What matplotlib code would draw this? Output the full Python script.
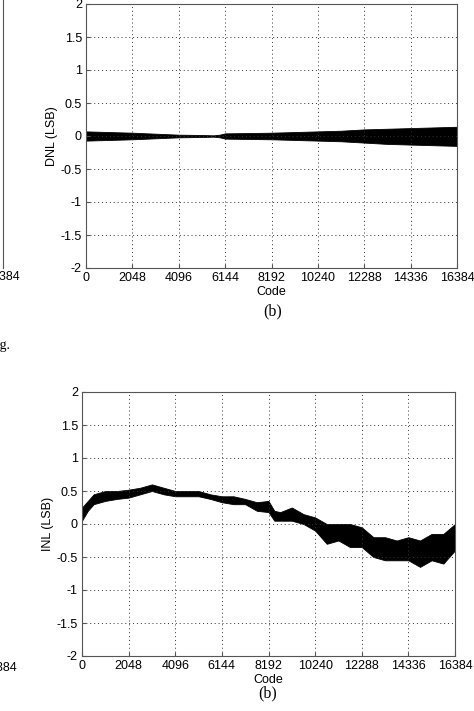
import matplotlib
matplotlib.use("Agg")
import matplotlib.pyplot as plt
import numpy as np

# DNL envelope (LSB)
dnl_codes = [0, 1024, 2048, 3072, 4096, 5120, 5632, 5900, 6144, 7168, 8192, 9216, 10240, 11264, 12288, 13312, 14336, 15360, 16384]
dnl_upper = [0.07, 0.06, 0.05, 0.035, 0.02, 0.015, 0.01, 0.02, 0.04, 0.045, 0.05, 0.06, 0.07, 0.08, 0.1, 0.11, 0.12, 0.13, 0.14]
dnl_lower = [-0.07, -0.06, -0.05, -0.035, -0.02, -0.015, -0.01, -0.02, -0.04, -0.045, -0.05, -0.06, -0.07, -0.08, -0.1, -0.12, -0.13, -0.14, -0.15]

# INL envelope (LSB)
inl_codes = [0, 256, 512, 1024, 1536, 2048, 2560, 3072, 3584, 4096, 4608, 5120, 5632, 6144, 6656, 7168, 7680, 8192, 8448, 8704, 9216, 9728, 10240, 10752, 11264, 11776, 12288, 12800, 13312, 13824, 14336, 14848, 15360, 15872, 16384]
inl_lower = [0.05, 0.2, 0.3, 0.35, 0.38, 0.4, 0.45, 0.5, 0.45, 0.42, 0.42, 0.42, 0.38, 0.33, 0.3, 0.3, 0.2, 0.18, 0.05, 0.05, 0.05, 0.0, -0.1, -0.3, -0.25, -0.35, -0.35, -0.5, -0.55, -0.55, -0.55, -0.65, -0.55, -0.6, -0.4]
inl_upper = [0.25, 0.35, 0.45, 0.5, 0.5, 0.52, 0.55, 0.6, 0.55, 0.5, 0.5, 0.5, 0.45, 0.42, 0.42, 0.38, 0.33, 0.35, 0.2, 0.18, 0.25, 0.15, 0.1, 0.0, 0.0, 0.0, -0.05, -0.2, -0.2, -0.25, -0.2, -0.25, -0.15, -0.15, 0.0]

xticks = [0, 2048, 4096, 6144, 8192, 10240, 12288, 14336, 16384]
yticks = [-2, -1.5, -1, -0.5, 0, 0.5, 1, 1.5, 2]
ytick_labels = ["-2", "-1.5", "-1", "-0.5", "0", "0.5", "1", "1.5", "2"]

plt.rcParams['font.family'] = ['Liberation Sans', 'DejaVu Sans']
W, H = 474, 711
fig = plt.figure(figsize=(W/100, H/100), dpi=100)

def make_ax(l, r, t, b, codes, lo, up, ylabel):
    ax = fig.add_axes([l/W, 1-b/H, (r-l)/W, (b-t)/H])
    ax.fill_between(codes, lo, up, color='black', lw=0.6, edgecolor='black')
    ax.set_xlim(0, 16384); ax.set_ylim(-2, 2)
    ax.set_xticks(xticks); ax.set_xticklabels([str(x) for x in xticks], fontsize=9)
    ax.set_yticks(yticks); ax.set_yticklabels(ytick_labels, fontsize=9)
    ax.grid(True, linestyle=(0, (1, 3)), color='#333333', lw=0.7)
    ax.tick_params(direction='in', length=3, color='#555555', pad=3)
    for s in ax.spines.values():
        s.set_color('#555555'); s.set_linewidth(0.8)
    ax.set_xlabel('Code', fontsize=9, labelpad=1)
    ax.set_ylabel(ylabel, fontsize=9, labelpad=2)
    return ax

ax1 = make_ax(86, 457, 4, 268, dnl_codes, dnl_lower, dnl_upper, 'DNL (LSB)')
ax2 = make_ax(82, 455, 392, 656, inl_codes, inl_lower, inl_upper, 'INL (LSB)')

fig.text(273/W, 1-311/H, '(b)', family='Liberation Serif', fontsize=11.5, ha='center', va='center')
fig.text(268/W, 1-693/H, '(b)', family='Liberation Serif', fontsize=11.5, ha='center', va='center')
# cut-off fragments from the neighbouring figure
fig.text(20/W, 1-277/H, '16384', fontsize=9, ha='right', va='center')
fig.text(17/W, 1-668/H, '16384', fontsize=9, ha='right', va='center')
fig.text(10/W, 1-345/H, 'Fig.', family='Liberation Serif', fontsize=10, ha='right', va='center')
fig.add_artist(plt.Line2D([3/W, 3/W], [1-268/H, 1.0], color='#555555', lw=0.8))

fig.savefig('out.png', dpi=100)
